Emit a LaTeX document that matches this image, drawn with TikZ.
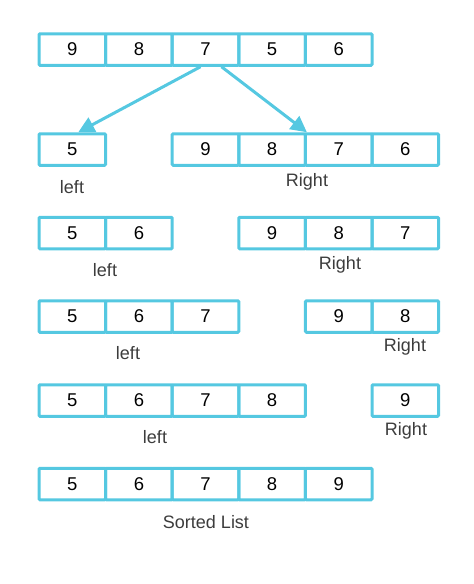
\documentclass[tikz,border=0pt]{standalone}
\usepackage{fontspec}
\setmainfont{Liberation Sans}
\usepackage{tikz}
\usetikzlibrary{arrows.meta}
\definecolor{Celeste}{RGB}{85, 200, 225}
\definecolor{GrisTexto}{RGB}{60, 60, 60}
\tikzset{
  celda/.style={draw=Celeste, line width=3pt, minimum width=66.6pt, minimum height=31.5pt, inner sep=0pt, rounded corners=1pt, font=\fontsize{18.5}{22}\selectfont},
  etiqueta/.style={text=GrisTexto, inner sep=0pt, font=\fontsize{18}{22}\selectfont},
  flecha/.style={draw=Celeste, line width=3pt, -{Triangle[length=16pt,width=16pt]}}
}

\begin{document}
\begin{tikzpicture}[x=1pt,y=-1pt]
            \useasboundingbox (0,0) rectangle (474,584);
            %Lista original
            \node[celda] (A1) at (72.3,49.5) {9};
            \node[celda] (A2) at (138.9,49.5) {8};
            \node[celda] (A3) at (205.5,49.5) {7};
            \node[celda] (A4) at (272.1,49.5) {5};
            \node[celda] (A5) at (338.7,49.5) {6};
            %Particion con pivote 7
            \node[celda] (B1) at (72.3,149.5) {5};
            \node[celda] (B2) at (205.5,149.5) {9};
            \node[celda] (B3) at (272.1,149.5) {8};
            \node[celda] (B4) at (338.7,149.5) {7};
            \node[celda] (B5) at (405.3,149.5) {6};
            \node[etiqueta] (L1) at (72,187) {left};
            \node[etiqueta] (R1) at (307,182) {Right};
            \draw[flecha] ([xshift=-5pt]A3.south) -- ([xshift=6pt]B1.north);
            \draw[flecha] ([xshift=16pt]A3.south) -- (B3.north east);
            %Paso 2
            \node[celda] (C1) at (72.3,233) {5};
            \node[celda] (C2) at (138.9,233) {6};
            \node[celda] (C3) at (272.1,233) {9};
            \node[celda] (C4) at (338.7,233) {8};
            \node[celda] (C5) at (405.3,233) {7};
            \node[etiqueta] (L2) at (105,270) {left};
            \node[etiqueta] (R2) at (340,265) {Right};
            %Paso 3
            \node[celda] (D1) at (72.3,316.5) {5};
            \node[celda] (D2) at (138.9,316.5) {6};
            \node[celda] (D3) at (205.5,316.5) {7};
            \node[celda] (D4) at (338.7,316.5) {9};
            \node[celda] (D5) at (405.3,316.5) {8};
            \node[etiqueta] (L3) at (128,353) {left};
            \node[etiqueta] (R3) at (405,347) {Right};
            %Paso 4
            \node[celda] (E1) at (72.3,400.5) {5};
            \node[celda] (E2) at (138.9,400.5) {6};
            \node[celda] (E3) at (205.5,400.5) {7};
            \node[celda] (E4) at (272.1,400.5) {8};
            \node[celda] (E5) at (405.3,400.5) {9};
            \node[etiqueta] (L4) at (155,437) {left};
            \node[etiqueta] (R4) at (406,431) {Right};
            %Lista ordenada
            \node[celda] (F1) at (72.3,484) {5};
            \node[celda] (F2) at (138.9,484) {6};
            \node[celda] (F3) at (205.5,484) {7};
            \node[celda] (F4) at (272.1,484) {8};
            \node[celda] (F5) at (338.7,484) {9};
            \node[etiqueta] (S) at (206,522) {Sorted List};
        \end{tikzpicture}
\end{document}
